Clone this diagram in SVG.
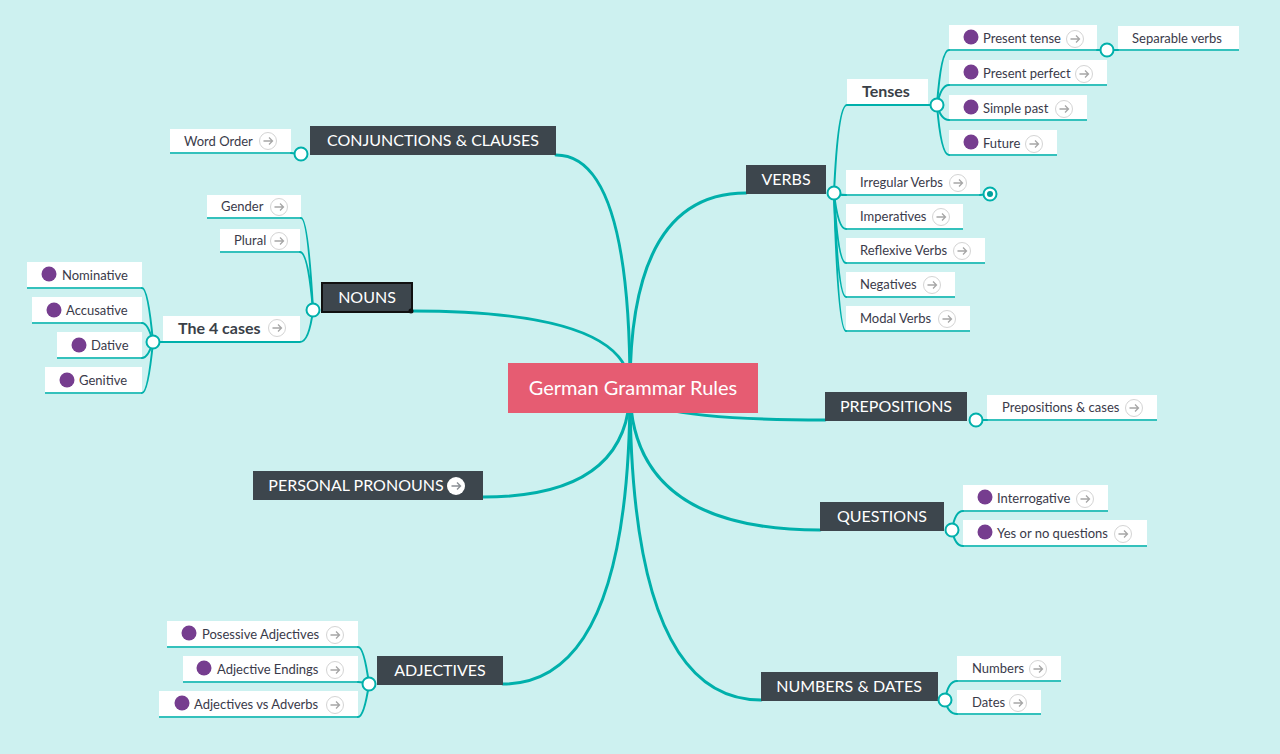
<svg xmlns="http://www.w3.org/2000/svg" xmlns:xlink="http://www.w3.org/1999/xlink" width="1280" height="754" viewBox="0 0 1280 754">
<style>
.main{fill:none;stroke:#00b0ab;stroke-width:3;stroke-linecap:round}
.sub{fill:none;stroke:#00b0ab;stroke-width:2;stroke-linecap:round}
.ul{stroke:#00b0ab;stroke-width:1.5}
.dark{fill:#3d464d}
.box{fill:#ffffff}
.lbl{font-family:Lato,"Open Sans",sans-serif;font-size:16px;fill:#ffffff;text-anchor:middle}
.t{font-family:Lato,"Open Sans",sans-serif;font-size:13px;fill:#3a3a4a}
.tb{font-family:Lato,"Open Sans",sans-serif;font-size:16px;font-weight:bold;fill:#3a3f48}
.dot{fill:#763d8f}
.knob{fill:#ffffff;stroke:#00b0ab;stroke-width:2}
</style>
<defs>
<g id="arr"><circle r="8.5" fill="#ffffff" stroke="#d4d4d4" stroke-width="1"/><path d="M-4.5,0 H4.5 M1,-3.5 L4.5,0 L1,3.5" fill="none" stroke="#a6a6a6" stroke-width="1.3"/></g>
</defs>
<rect width="1280" height="754" fill="#cdf1f0"/>

<g id="connectors">
<path class="main" d="M556,155 Q630,155 630,388"/>
<path class="main" d="M412,311 Q630,311 630,388"/>
<path class="main" d="M483,497 Q630,497 630,388"/>
<path class="main" d="M503,684 Q630,684 630,388"/>
<path class="main" d="M746,193 Q630,193 630,388"/>
<path class="main" d="M825,420 Q630,420 630,388"/>
<path class="main" d="M820,530 Q630,530 630,388"/>
<path class="main" d="M761,700 Q630,700 630,388"/>
<path class="sub" d="M301,154 L291,153"/>
<path class="sub" d="M313,310 Q308,218 301,218"/>
<path class="sub" d="M313,310 Q308,252 300,252"/>
<path class="sub" d="M313,310 Q309,342 300,342 L153,342"/>
<path class="sub" d="M153,342 Q148,288 142,288"/>
<path class="sub" d="M153,342 Q148,323 142,323"/>
<path class="sub" d="M153,342 Q148,358 142,358"/>
<path class="sub" d="M153,342 Q148,393 142,393"/>
<path class="sub" d="M834,193 Q838,105 847,105 L937,105"/>
<path class="sub" d="M834,193 Q838,195 846,195"/>
<path class="sub" d="M834,193 Q838,229 846,229"/>
<path class="sub" d="M834,193 Q838,263 846,263"/>
<path class="sub" d="M834,193 Q838,297 846,297"/>
<path class="sub" d="M834,193 Q838,331 846,331"/>
<path class="sub" d="M937,105 Q941,50 949,50"/>
<path class="sub" d="M937,105 Q941,85 949,85"/>
<path class="sub" d="M937,105 Q941,120 949,120"/>
<path class="sub" d="M937,105 Q941,155 949,155"/>
<path class="sub" d="M1097,50 L1118,50"/>
<path class="sub" d="M980,195 L990,194"/>
<path class="sub" d="M976,420 L987,420"/>
<path class="sub" d="M952,530 Q955,511 963,511"/>
<path class="sub" d="M952,530 Q955,546 963,546"/>
<path class="sub" d="M369,684 Q364,647 358,647"/>
<path class="sub" d="M369,684 Q364,682 358,682"/>
<path class="sub" d="M369,684 Q364,717 358,717"/>
<path class="sub" d="M945,700 Q948,681 957,681"/>
<path class="sub" d="M945,700 Q948,714 957,714"/>
</g>

<g id="root">
<rect x="508" y="363" width="250" height="50" fill="#e65c72"/>
<text x="633" y="395" font-family="Lato,'Open Sans',sans-serif" font-size="20" fill="#ffffff" text-anchor="middle">German Grammar Rules</text>
</g>

<g id="conjunctions">
<rect class="dark" x="310" y="126" width="246" height="29"/>
<text class="lbl" x="433" y="146">CONJUNCTIONS &amp; CLAUSES</text>
<circle class="knob" cx="301" cy="154" r="6.5"/>
</g>
<g id="word-order">
<line class="ul" x1="170" y1="153" x2="291" y2="153"/>
<rect class="box" x="170" y="129" width="121" height="23"/>
<text class="t" x="184" y="146">Word Order</text>
<use xlink:href="#arr" x="268" y="141"/>
</g>

<g id="nouns">
<rect class="dark" x="322" y="283" width="90" height="29" stroke="#111" stroke-width="2"/>
<text class="lbl" x="367" y="303">NOUNS</text>
<circle cx="411" cy="311" r="2.5" fill="#111"/>
<circle class="knob" cx="313" cy="310" r="6.5"/>
</g>
<g id="gender">
<line class="ul" x1="207" y1="218" x2="301" y2="218"/>
<rect class="box" x="207" y="195" width="94" height="22"/>
<text class="t" x="221" y="211">Gender</text>
<use xlink:href="#arr" x="279" y="207"/>
</g>
<g id="plural">
<line class="ul" x1="220" y1="252" x2="300" y2="252"/>
<rect class="box" x="220" y="229" width="80" height="22"/>
<text class="t" x="234" y="245">Plural</text>
<use xlink:href="#arr" x="279" y="241"/>
</g>
<g id="the-4-cases">
<rect class="box" x="163" y="316" width="137" height="25"/>
<text class="tb" x="178" y="334">The 4 cases</text>
<use xlink:href="#arr" x="277" y="328"/>
<circle class="knob" cx="153" cy="342" r="6.5"/>
</g>
<g id="nominative">
<line class="ul" x1="27" y1="288" x2="142" y2="288"/>
<rect class="box" x="27" y="262" width="115" height="25"/>
<circle class="dot" cx="49" cy="274" r="7.5"/>
<text class="t" x="62" y="280">Nominative</text>
</g>
<g id="accusative">
<line class="ul" x1="32" y1="323" x2="142" y2="323"/>
<rect class="box" x="32" y="297" width="110" height="25"/>
<circle class="dot" cx="54" cy="310" r="7.5"/>
<text class="t" x="66" y="315">Accusative</text>
</g>
<g id="dative">
<line class="ul" x1="57" y1="358" x2="142" y2="358"/>
<rect class="box" x="57" y="332" width="85" height="25"/>
<circle class="dot" cx="79" cy="345" r="7.5"/>
<text class="t" x="91" y="350">Dative</text>
</g>
<g id="genitive">
<line class="ul" x1="45" y1="393" x2="142" y2="393"/>
<rect class="box" x="45" y="367" width="97" height="25"/>
<circle class="dot" cx="67" cy="380" r="7.5"/>
<text class="t" x="79" y="385">Genitive</text>
</g>

<g id="verbs">
<rect class="dark" x="746" y="165" width="80" height="29"/>
<text class="lbl" x="786" y="185">VERBS</text>
<circle class="knob" cx="834" cy="193" r="6.5"/>
</g>
<g id="tenses">
<rect class="box" x="847" y="79" width="81" height="25"/>
<text class="tb" x="862" y="97">Tenses</text>
<circle class="knob" cx="937" cy="105" r="6.5"/>
</g>
<g id="present-tense">
<line class="ul" x1="949" y1="50" x2="1097" y2="50"/>
<rect class="box" x="949" y="25" width="148" height="24"/>
<circle class="dot" cx="971" cy="37" r="7.5"/>
<text class="t" x="983" y="43">Present tense</text>
<use xlink:href="#arr" x="1075" y="39"/>
<circle class="knob" cx="1107" cy="50" r="6.5"/>
</g>
<g id="separable-verbs">
<line class="ul" x1="1118" y1="50" x2="1239" y2="50"/>
<rect class="box" x="1118" y="26" width="121" height="23"/>
<text class="t" x="1132" y="43">Separable verbs</text>
</g>
<g id="present-perfect">
<line class="ul" x1="949" y1="85" x2="1107" y2="85"/>
<rect class="box" x="949" y="60" width="158" height="24"/>
<circle class="dot" cx="971" cy="72" r="7.5"/>
<text class="t" x="983" y="78">Present perfect</text>
<use xlink:href="#arr" x="1084" y="74"/>
</g>
<g id="simple-past">
<line class="ul" x1="949" y1="120" x2="1087" y2="120"/>
<rect class="box" x="949" y="95" width="138" height="24"/>
<circle class="dot" cx="971" cy="107" r="7.5"/>
<text class="t" x="983" y="113">Simple past</text>
<use xlink:href="#arr" x="1064" y="109"/>
</g>
<g id="future">
<line class="ul" x1="949" y1="155" x2="1057" y2="155"/>
<rect class="box" x="949" y="130" width="108" height="24"/>
<circle class="dot" cx="971" cy="142" r="7.5"/>
<text class="t" x="983" y="148">Future</text>
<use xlink:href="#arr" x="1034" y="144"/>
</g>
<g id="irregular-verbs">
<line class="ul" x1="846" y1="195" x2="980" y2="195"/>
<rect class="box" x="846" y="170" width="134" height="24"/>
<text class="t" x="860" y="187">Irregular Verbs</text>
<use xlink:href="#arr" x="958" y="183"/>
<circle class="knob" cx="990" cy="194" r="6.5"/>
<circle cx="990" cy="194" r="3" fill="#00a09b"/>
</g>
<g id="imperatives">
<line class="ul" x1="846" y1="229" x2="963" y2="229"/>
<rect class="box" x="846" y="204" width="117" height="24"/>
<text class="t" x="860" y="221">Imperatives</text>
<use xlink:href="#arr" x="941" y="217"/>
</g>
<g id="reflexive-verbs">
<line class="ul" x1="846" y1="263" x2="985" y2="263"/>
<rect class="box" x="846" y="238" width="139" height="24"/>
<text class="t" x="860" y="255">Reflexive Verbs</text>
<use xlink:href="#arr" x="962" y="251"/>
</g>
<g id="negatives">
<line class="ul" x1="846" y1="297" x2="955" y2="297"/>
<rect class="box" x="846" y="272" width="109" height="24"/>
<text class="t" x="860" y="289">Negatives</text>
<use xlink:href="#arr" x="932" y="285"/>
</g>
<g id="modal-verbs">
<line class="ul" x1="846" y1="331" x2="970" y2="331"/>
<rect class="box" x="846" y="306" width="124" height="24"/>
<text class="t" x="860" y="323">Modal Verbs</text>
<use xlink:href="#arr" x="947" y="319"/>
</g>

<g id="prepositions">
<rect class="dark" x="825" y="392" width="142" height="29"/>
<text class="lbl" x="896" y="412">PREPOSITIONS</text>
<circle class="knob" cx="976" cy="420" r="6.5"/>
</g>
<g id="prepositions-cases">
<line class="ul" x1="987" y1="420" x2="1157" y2="420"/>
<rect class="box" x="987" y="395" width="170" height="24"/>
<text class="t" x="1002" y="412">Prepositions &amp; cases</text>
<use xlink:href="#arr" x="1134" y="408"/>
</g>

<g id="questions">
<rect class="dark" x="820" y="502" width="124" height="29"/>
<text class="lbl" x="882" y="522">QUESTIONS</text>
<circle class="knob" cx="952" cy="530" r="6.5"/>
</g>
<g id="interrogative">
<line class="ul" x1="963" y1="511" x2="1108" y2="511"/>
<rect class="box" x="963" y="485" width="145" height="25"/>
<circle class="dot" cx="985" cy="497" r="7.5"/>
<text class="t" x="997" y="503">Interrogative</text>
<use xlink:href="#arr" x="1085" y="499"/>
</g>
<g id="yes-or-no">
<line class="ul" x1="963" y1="546" x2="1147" y2="546"/>
<rect class="box" x="963" y="520" width="184" height="25"/>
<circle class="dot" cx="985" cy="532" r="7.5"/>
<text class="t" x="997" y="538">Yes or no questions</text>
<use xlink:href="#arr" x="1123" y="534"/>
</g>

<g id="personal-pronouns">
<rect class="dark" x="253" y="471" width="230" height="29"/>
<text class="lbl" x="356" y="491">PERSONAL PRONOUNS</text>
<circle cx="456" cy="486" r="9" fill="#ffffff"/>
<path d="M451.5,486 H460.5 M457,482.5 L460.5,486 L457,489.5" fill="none" stroke="#8a8f94" stroke-width="1.4"/>
</g>

<g id="adjectives">
<rect class="dark" x="377" y="656" width="126" height="29"/>
<text class="lbl" x="440" y="676">ADJECTIVES</text>
<circle class="knob" cx="369" cy="684" r="6.5"/>
</g>
<g id="posessive-adjectives">
<line class="ul" x1="167" y1="647" x2="358" y2="647"/>
<rect class="box" x="167" y="621" width="191" height="25"/>
<circle class="dot" cx="189" cy="633" r="7.5"/>
<text class="t" x="202" y="639">Posessive Adjectives</text>
<use xlink:href="#arr" x="335" y="635"/>
</g>
<g id="adjective-endings">
<line class="ul" x1="183" y1="682" x2="358" y2="682"/>
<rect class="box" x="183" y="656" width="175" height="25"/>
<circle class="dot" cx="204" cy="668" r="7.5"/>
<text class="t" x="217" y="674">Adjective Endings</text>
<use xlink:href="#arr" x="335" y="670"/>
</g>
<g id="adjectives-vs-adverbs">
<line class="ul" x1="159" y1="717" x2="358" y2="717"/>
<rect class="box" x="159" y="691" width="199" height="25"/>
<circle class="dot" cx="182" cy="703" r="7.5"/>
<text class="t" x="194" y="709">Adjectives vs Adverbs</text>
<use xlink:href="#arr" x="335" y="705"/>
</g>

<g id="numbers-dates">
<rect class="dark" x="761" y="672" width="177" height="29"/>
<text class="lbl" x="849" y="692">NUMBERS &amp; DATES</text>
<circle class="knob" cx="945" cy="700" r="6.5"/>
</g>
<g id="numbers">
<line class="ul" x1="957" y1="681" x2="1061" y2="681"/>
<rect class="box" x="957" y="656" width="104" height="24"/>
<text class="t" x="972" y="673">Numbers</text>
<use xlink:href="#arr" x="1038" y="669"/>
</g>
<g id="dates">
<line class="ul" x1="957" y1="714" x2="1041" y2="714"/>
<rect class="box" x="957" y="690" width="84" height="23"/>
<text class="t" x="972" y="707">Dates</text>
<use xlink:href="#arr" x="1018" y="703"/>
</g>
</svg>
